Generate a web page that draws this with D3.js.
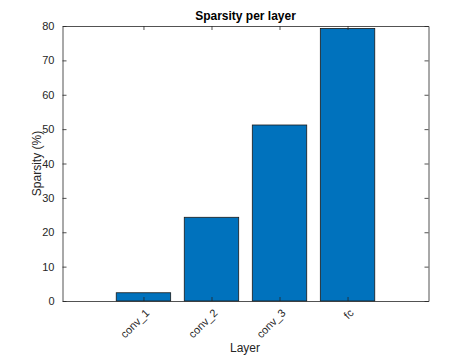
<!DOCTYPE html>
<html><head><meta charset="utf-8">
<script src="https://cdn.jsdelivr.net/npm/d3@7"></script>
<style>body{margin:0;background:#fff}svg{display:block}text{font-family:"Liberation Sans",Arial,sans-serif}</style>
</head><body><svg id="c" width="474" height="355"></svg>
<script>
const categories = ["conv_1", "conv_2", "conv_3", "fc"];
const sparsity = [2.4, 24.35, 51.2, 79.3];
const yTicks = [0, 10, 20, 30, 40, 50, 60, 70, 80];

(function () {
const svg = d3.select("#c");
const L = 62.5, R = 428.5, T = 26, B = 301;
const axisColor = "#262626";
const x = d3.scaleLinear().domain([-0.19, 5.19]).range([L, R]);
const y = d3.scaleLinear().domain([0, 80]).range([B, T]);
const idx = categories.map((d, i) => i + 1);
const bw = 0.8;

svg.append("g").selectAll("rect").data(sparsity).join("rect")
  .attr("x", (d, i) => x(idx[i] - bw / 2))
  .attr("width", x(bw) - x(0))
  .attr("y", d => y(d))
  .attr("height", d => y(0) - y(d))
  .attr("fill", "#0072BD")
  .attr("stroke", "#1a1a1a")
  .attr("stroke-width", 0.8);

const tl = 4;
const axL = d3.axisLeft(y).tickValues(yTicks).tickSizeInner(-tl).tickSizeOuter(0).tickPadding(8);
const gl = svg.append("g").attr("transform", `translate(${L},0)`).call(axL);
const axR = d3.axisRight(y).tickValues(yTicks).tickSizeInner(-tl).tickSizeOuter(0).tickFormat("");
const gr = svg.append("g").attr("transform", `translate(${R},0)`).call(axR);
const axB = d3.axisBottom(x).tickValues(idx).tickSizeInner(-tl).tickSizeOuter(0).tickFormat("");
const gb = svg.append("g").attr("transform", `translate(0,${B})`).call(axB);
const axT = d3.axisTop(x).tickValues(idx).tickSizeInner(-tl).tickSizeOuter(0).tickFormat("");
const gt = svg.append("g").attr("transform", `translate(0,${T})`).call(axT);

[gl, gr, gb, gt].forEach(g => {
  g.select(".domain").attr("stroke", axisColor).attr("stroke-width", 0.8);
  g.selectAll(".tick line").attr("stroke", axisColor).attr("stroke-width", 0.8);
  g.selectAll("text").attr("fill", axisColor).style("font-size", "11px").style("font-family", '"Liberation Sans",Arial,sans-serif');
});

// rotated category labels
svg.append("g").selectAll("text").data(categories).join("text")
  .attr("transform", (d, i) => `translate(${x(idx[i]) + 4},${B + 10}) rotate(-45)`)
  .attr("text-anchor", "end")
  .attr("dy", "0.35em")
  .attr("fill", axisColor)
  .style("font-size", "11px")
  .text(d => d);

svg.append("text").attr("x", (L + R) / 2).attr("y", 20).attr("text-anchor", "middle")
  .style("font-size", "12px").style("font-weight", "bold").attr("fill", "#000").text("Sparsity per layer");
svg.append("text").attr("x", (L + R) / 2 - 0.5).attr("y", 352).attr("text-anchor", "middle")
  .style("font-size", "12px").attr("fill", axisColor).text("Layer");
svg.append("text").attr("transform", `translate(41,${(T + B) / 2}) rotate(-90)`).attr("text-anchor", "middle")
  .style("font-size", "12px").attr("fill", axisColor).text("Sparsity (%)");
})();
</script></body></html>
